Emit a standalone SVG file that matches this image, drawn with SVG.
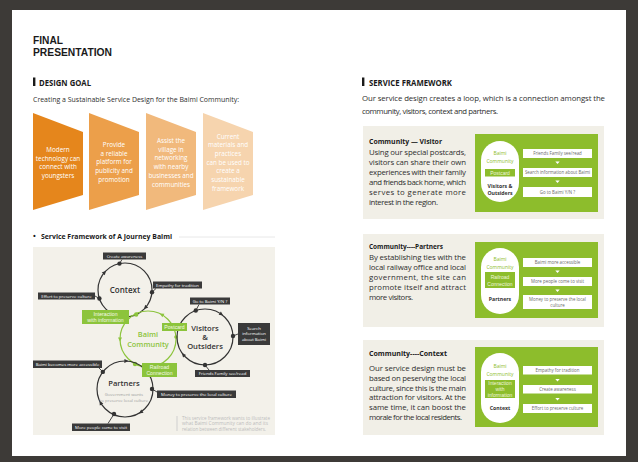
<svg xmlns="http://www.w3.org/2000/svg" width="638" height="462" viewBox="0 0 638 462">
<style>
text{font-family:"Open Sans","Liberation Sans",sans-serif}
.h{font-weight:700;fill:#1a1a1a}
.ft{font-family:"Liberation Sans",Arial,sans-serif;font-weight:700;fill:#1a1a1a;font-size:10.7px}
.b{fill:#2e2e2e;font-size:7.8px}
.t{font-weight:700;fill:#1a1a1a;font-size:7.6px}
.o{fill:#fff;font-size:6.3px;text-anchor:middle}
.dl{fill:#3a3a3a}
.dt{fill:#fff;font-size:4.3px;text-anchor:middle}
.gl{fill:#8cc43c}
.gt{font-family:"Liberation Sans",Arial,sans-serif;fill:#f4fae6;font-size:5.2px;text-anchor:middle}
.cir{fill:none;stroke:#333;stroke-width:1.2}
.ln{stroke:#333;stroke-width:0.9}
.dot{fill:#333}
.gdot{fill:#8cc43c}
.gbox{fill:#8dbd2c}
.wb{fill:#fff}
.wt{fill:#6a6a6a;font-size:4.4px;text-anchor:middle}
.mg{fill:#8dbd2c;font-size:5px;text-anchor:middle}
.mb{fill:#333;font-size:5.2px;font-weight:700;text-anchor:middle}
.mw{font-family:"Liberation Sans",Arial,sans-serif;fill:#eef6dc;font-size:5px;text-anchor:middle}
.panel{fill:#f1efe7}
</style>
<defs>
<path id="ah" d="M2.6,0 L-1.6,-2 L-1.6,2 Z" fill="#333"/>
<path id="ahg" d="M2.6,0 L-1.6,-2 L-1.6,2 Z" fill="#8cc43c"/>
<path id="tri" d="M-2.2,0 L2.2,0 L0,2.6 Z" fill="#fff"/>
</defs>
<rect width="638" height="462" fill="#3d3a37"/>
<rect x="12" y="10" width="614" height="446" fill="#fff"/>

<g id="title">
<text class="ft" x="33" y="43.5" textLength="30" lengthAdjust="spacingAndGlyphs">FINAL</text>
<text class="ft" x="33" y="55.5" textLength="79" lengthAdjust="spacingAndGlyphs">PRESENTATION</text>
</g>

<g id="design-goal">
<rect x="33" y="77.5" width="2.4" height="8.5" fill="#1a1a1a"/>
<text class="h" x="39" y="85.5" font-size="8.6" textLength="52" lengthAdjust="spacingAndGlyphs">DESIGN GOAL</text>
<text class="b" x="33" y="101.5" textLength="206" lengthAdjust="spacingAndGlyphs">Creating a Sustainable Service Design for the Baimi Community:</text>
</g>

<g id="goal-1">
<polygon points="33,113 83,132 83,195 33,210" fill="#e5861c"/>
<text class="o" x="58" y="152">Modern</text>
<text class="o" x="58" y="160.7">technology can</text>
<text class="o" x="58" y="169.4">connect with</text>
<text class="o" x="58" y="178.1">youngsters</text>
</g>
<g id="goal-2">
<polygon points="89,113 139,132 139,195 89,210" fill="#ec9f4a"/>
<text class="o" x="114" y="147">Provide</text>
<text class="o" x="114" y="155.7">a reliable</text>
<text class="o" x="114" y="164.4">platform for</text>
<text class="o" x="114" y="173.1">publicity and</text>
<text class="o" x="114" y="181.8">promotion</text>
</g>
<g id="goal-3">
<polygon points="146,113 196,132 196,195 146,210" fill="#f1b97c"/>
<text class="o" x="171" y="143">Assist the</text>
<text class="o" x="171" y="151.7">village in</text>
<text class="o" x="171" y="160.4">networking</text>
<text class="o" x="171" y="169.1">with nearby</text>
<text class="o" x="171" y="177.8">businesses and</text>
<text class="o" x="171" y="186.5">communities</text>
</g>
<g id="goal-4">
<polygon points="203,113 253,132 253,195 203,210" fill="#f6d4ae"/>
<text class="o" x="228" y="138.5">Current</text>
<text class="o" x="228" y="147.2">materials and</text>
<text class="o" x="228" y="155.9">practices</text>
<text class="o" x="228" y="164.6">can be used to</text>
<text class="o" x="228" y="173.3">create a</text>
<text class="o" x="228" y="182">sustainable</text>
<text class="o" x="228" y="190.7">framework</text>
</g>

<g id="framework-heading">
<text class="h" x="33" y="238.5" font-size="7.4">•</text>
<text class="h" x="41" y="238.5" font-size="7.4" textLength="131" lengthAdjust="spacingAndGlyphs">Service Framework of A Journey Baimi</text>
<line x1="179" y1="237" x2="275" y2="237" stroke="#e2e2e2" stroke-width="0.8"/>
</g>

<rect x="33" y="247" width="242" height="188" fill="#f3f1ea"/>

<g id="connectors">
<line class="ln" x1="119.5" y1="263.6" x2="122" y2="259.5"/>
<line class="ln" x1="152" y1="292.2" x2="156" y2="288.5"/>
<line class="ln" x1="99.4" y1="298.5" x2="95" y2="296"/>
<line x1="136.2" y1="314.5" x2="129" y2="316.5" stroke="#8cc43c" stroke-width="0.9"/>
<line class="ln" x1="195.8" y1="310.5" x2="199" y2="304.5"/>
<line class="ln" x1="233" y1="336" x2="238" y2="334"/>
<line class="ln" x1="205" y1="365" x2="209" y2="370"/>
<line class="ln" x1="102.8" y1="371.9" x2="99" y2="368"/>
<line class="ln" x1="152" y1="389" x2="157" y2="392"/>
<line class="ln" x1="114" y1="414" x2="108" y2="423.5"/>
<line x1="135" y1="364" x2="142" y2="366" stroke="#8cc43c" stroke-width="0.9"/>
</g>

<g id="context">
<circle class="cir" cx="125" cy="290" r="27"/>
<use href="#ah" transform="rotate(-140 125 290) translate(152 290) rotate(90)"/>
<use href="#ah" transform="rotate(40 125 290) translate(152 290) rotate(90)"/>
<text x="125" y="293" font-size="8" font-weight="600" fill="#333" text-anchor="middle">Context</text>
<circle class="dot" cx="119.5" cy="263.6" r="2.2"/>
<circle class="dot" cx="152" cy="292.2" r="2.2"/>
<circle class="dot" cx="99.4" cy="298.5" r="2.2"/>
</g>

<g id="baimi-community">
<circle cx="148" cy="339" r="28" fill="none" stroke="#8cc43c" stroke-width="1.2"/>
<use href="#ahg" transform="rotate(180 148 339) translate(176 339) rotate(-90)"/>
<use href="#ahg" transform="rotate(-60 148 339) translate(176 339) rotate(-90)"/>
<text x="148" y="337" font-size="7.4" font-weight="600" fill="#8cc43c" text-anchor="middle">Baimi</text>
<text x="148" y="347" font-size="7.4" font-weight="600" fill="#8cc43c" text-anchor="middle">Community</text>
<circle class="gdot" cx="136.2" cy="314.5" r="2.2"/>
<circle class="gdot" cx="135" cy="364" r="2.2"/>
<circle class="gdot" cx="176" cy="337" r="1.8"/>
</g>

<g id="visitors">
<circle class="cir" cx="205" cy="337" r="28"/>
<use href="#ah" transform="rotate(-55 205 337) translate(233 337) rotate(90)"/>
<use href="#ah" transform="rotate(140 205 337) translate(233 337) rotate(90)"/>
<text x="205" y="331" font-size="7.6" font-weight="600" fill="#333" text-anchor="middle">Visitors</text>
<text x="205" y="340" font-size="7.6" font-weight="600" fill="#333" text-anchor="middle">&amp;</text>
<text x="205" y="349" font-size="7.6" font-weight="600" fill="#333" text-anchor="middle">Outsiders</text>
<circle class="dot" cx="195.8" cy="310.5" r="2.2"/>
<circle class="dot" cx="233" cy="336" r="2.2"/>
<circle class="dot" cx="205" cy="365" r="2.2"/>
</g>

<g id="partners">
<circle class="cir" cx="125" cy="389" r="28"/>
<use href="#ah" transform="rotate(-88 125 389) translate(153 389) rotate(90)"/>
<use href="#ah" transform="rotate(55 125 389) translate(153 389) rotate(90)"/>
<use href="#ah" transform="rotate(150 125 389) translate(153 389) rotate(90)"/>
<text x="124" y="386" font-size="7.6" font-weight="600" fill="#333" text-anchor="middle">Partners</text>
<text x="124" y="395.5" font-size="4.3" fill="#a0a0a0" text-anchor="middle">Government wants</text>
<text x="124" y="401.5" font-size="4.3" fill="#a0a0a0" text-anchor="middle">to preserve local culture</text>
<circle class="dot" cx="102.8" cy="371.9" r="2.2"/>
<circle class="dot" cx="152" cy="389" r="2.2"/>
<circle class="dot" cx="114" cy="414" r="2.2"/>
</g>

<g id="label-create-awareness"><rect class="dl" x="103" y="252.5" width="43" height="7"/><text class="dt" x="124.5" y="257.8">Create awareness</text></g>
<g id="label-empathy"><rect class="dl" x="153" y="281.5" width="49" height="7"/><text class="dt" x="177.5" y="286.8">Empathy for tradition</text></g>
<g id="label-effort"><rect class="dl" x="38" y="292.5" width="57" height="7"/><text class="dt" x="66.5" y="297.8">Effort to preserve culture</text></g>
<g id="label-goto"><rect class="dl" x="190" y="297.5" width="40" height="7"/><text class="dt" x="210" y="302.8">Go to Baimi Y/N ?</text></g>
<g id="label-search"><rect class="dl" x="238" y="323" width="32" height="22"/><text class="dt" x="254" y="329.5">Search</text><text class="dt" x="254" y="335.3">information</text><text class="dt" x="254" y="341.1">about Baimi</text></g>
<g id="label-accessible"><rect class="dl" x="33" y="360.5" width="69" height="7.5"/><text class="dt" x="67.5" y="366">Baimi becomes more accessible</text></g>
<g id="label-friends"><rect class="dl" x="195" y="370" width="55" height="7"/><text class="dt" x="222.5" y="375.3">Friends Family see/read</text></g>
<g id="label-money"><rect class="dl" x="157" y="390.5" width="79" height="7.5"/><text class="dt" x="196.5" y="396">Money to preserve the local culture</text></g>
<g id="label-more-people"><rect class="dl" x="72" y="423.5" width="58" height="7.5"/><text class="dt" x="101" y="429">More people come to visit</text></g>
<g id="label-interaction"><rect class="gl" x="82" y="310" width="47" height="14"/><text class="gt" x="105.5" y="315.6">Interaction</text><text class="gt" x="105.5" y="322">with information</text></g>
<g id="label-postcard"><rect class="gl" x="162" y="323" width="25" height="8"/><text class="gt" x="174.5" y="328.9">Postcard</text></g>
<g id="label-railroad"><rect class="gl" x="142" y="363" width="35" height="14"/><text class="gt" x="159.5" y="368.8">Railroad</text><text class="gt" x="159.5" y="375.3">Connection</text></g>

<g id="note">
<line x1="177" y1="416" x2="177" y2="431" stroke="#cfcfcf" stroke-width="1"/>
<text x="182" y="419.5" font-size="4.5" fill="#bdbdbd" textLength="88" lengthAdjust="spacingAndGlyphs">This service framework wants to illustrate</text>
<text x="182" y="425" font-size="4.5" fill="#bdbdbd" textLength="86" lengthAdjust="spacingAndGlyphs">what Baimi Community can do and its</text>
<text x="182" y="430.5" font-size="4.5" fill="#bdbdbd" textLength="84" lengthAdjust="spacingAndGlyphs">relation between different stakeholders.</text>
</g>

<g id="service-framework">
<rect x="362" y="77.5" width="2.4" height="8.5" fill="#1a1a1a"/>
<text class="h" x="369" y="85.5" font-size="8.6" textLength="83" lengthAdjust="spacingAndGlyphs">SERVICE FRAMEWORK</text>
<text class="b" x="362" y="101" textLength="243" lengthAdjust="spacing">Our service design creates a loop, which is a connection amongst the</text>
<text class="b" x="362" y="114" textLength="136" lengthAdjust="spacing">community, visitors, context and partners.</text>
</g>

<g id="panel-visitor">
<rect class="panel" x="363" y="126" width="241" height="93"/>
<text class="t" x="369" y="143.5" textLength="73" lengthAdjust="spacingAndGlyphs">Community — Visitor</text>
<text class="b" x="369" y="155" textLength="97" lengthAdjust="spacing">Using our special postcards,</text>
<text class="b" x="369" y="165" textLength="97" lengthAdjust="spacing">visitors can share their own</text>
<text class="b" x="369" y="175" textLength="97" lengthAdjust="spacing">experiences with their family</text>
<text class="b" x="369" y="185" textLength="97" lengthAdjust="spacing">and friends back home, which</text>
<text class="b" x="369" y="195" textLength="97" lengthAdjust="spacing">serves to generate more</text>
<text class="b" x="369" y="205" textLength="69" lengthAdjust="spacing">interest in the region.</text>
<rect class="gbox" x="475" y="134" width="123" height="78"/>
<rect class="wb" x="481" y="141" width="38" height="61" rx="19"/>
<rect class="gbox" x="485" y="169" width="30" height="7.5"/>
<text class="mg" x="500" y="155">Baimi</text>
<text class="mg" x="500" y="163">Community</text>
<text class="mw" x="500" y="174.6">Postcard</text>
<text class="mb" x="500" y="188">Visitors &amp;</text>
<text class="mb" x="500" y="195">Outsiders</text>
<rect class="wb" x="523" y="149" width="69" height="9"/>
<text class="wt" x="557.5" y="155">Friends Family see/read</text>
<use href="#tri" x="557.5" y="161.5"/>
<rect class="wb" x="523" y="168" width="69" height="9"/>
<text class="wt" x="557.5" y="174">Search information about Baimi</text>
<use href="#tri" x="557.5" y="180.5"/>
<rect class="wb" x="523" y="187" width="69" height="10"/>
<text class="wt" x="557.5" y="193.5">Go to Baimi Y/N ?</text>
</g>

<g id="panel-partners">
<rect class="panel" x="363" y="234" width="241" height="93"/>
<text class="t" x="369" y="248.5" textLength="74" lengthAdjust="spacingAndGlyphs">Community----Partners</text>
<text class="b" x="369" y="260" textLength="97" lengthAdjust="spacing">By establishing ties with the</text>
<text class="b" x="369" y="270" textLength="97" lengthAdjust="spacing">local railway office and local</text>
<text class="b" x="369" y="280" textLength="97" lengthAdjust="spacing">government, the site can</text>
<text class="b" x="369" y="290" textLength="97" lengthAdjust="spacing">promote itself and attract</text>
<text class="b" x="369" y="300" textLength="44" lengthAdjust="spacing">more visitors.</text>
<rect class="gbox" x="475" y="242" width="123" height="76"/>
<rect class="wb" x="481" y="248" width="38" height="66" rx="19"/>
<rect class="gbox" x="485" y="272" width="30" height="16"/>
<text class="mg" x="500" y="261">Baimi</text>
<text class="mg" x="500" y="269">Community</text>
<text class="mw" x="500" y="279.3">Railroad</text>
<text class="mw" x="500" y="285.6">Connection</text>
<text class="mb" x="500" y="300.5">Partners</text>
<rect class="wb" x="523" y="258" width="69" height="9"/>
<text class="wt" x="557.5" y="264">Baimi more accessible</text>
<use href="#tri" x="557.5" y="270.5"/>
<rect class="wb" x="523" y="277" width="69" height="9"/>
<text class="wt" x="557.5" y="283">More people come to visit</text>
<use href="#tri" x="557.5" y="289.5"/>
<rect class="wb" x="523" y="295" width="69" height="14"/>
<text class="wt" x="557.5" y="301">Money to preserve the local</text>
<text class="wt" x="557.5" y="306.8">culture</text>
</g>

<g id="panel-context">
<rect class="panel" x="363" y="340" width="241" height="95"/>
<text class="t" x="369" y="356" textLength="78" lengthAdjust="spacingAndGlyphs">Community----Context</text>
<text class="b" x="369" y="371" textLength="97" lengthAdjust="spacing">Our service design must be</text>
<text class="b" x="369" y="380.8" textLength="97" lengthAdjust="spacing">based on peserving the local</text>
<text class="b" x="369" y="390.6" textLength="97" lengthAdjust="spacing">culture, since this is the main</text>
<text class="b" x="369" y="400.4" textLength="97" lengthAdjust="spacing">attraction for visitors. At the</text>
<text class="b" x="369" y="410.2" textLength="97" lengthAdjust="spacing">same time, it can boost the</text>
<text class="b" x="369" y="420" textLength="93" lengthAdjust="spacing">morale for the local residents.</text>
<rect class="gbox" x="475" y="347" width="123" height="80"/>
<rect class="wb" x="481" y="353" width="38" height="70" rx="19"/>
<rect class="gbox" x="485" y="380" width="30" height="18"/>
<text class="mg" x="500" y="368">Baimi</text>
<text class="mg" x="500" y="375.5">Community</text>
<text class="mw" x="500" y="385">Interaction</text>
<text class="mw" x="500" y="390.8">with</text>
<text class="mw" x="500" y="396.6">information</text>
<text class="mb" x="500" y="410">Context</text>
<rect class="wb" x="523" y="366" width="69" height="8.5"/>
<text class="wt" x="557.5" y="371.8">Empathy for tradition</text>
<use href="#tri" x="557.5" y="379"/>
<rect class="wb" x="523" y="385" width="69" height="8.5"/>
<text class="wt" x="557.5" y="390.8">Create awareness</text>
<use href="#tri" x="557.5" y="398"/>
<rect class="wb" x="523" y="404" width="69" height="9"/>
<text class="wt" x="557.5" y="410">Effort to preserve culture</text>
</g>
</svg>
